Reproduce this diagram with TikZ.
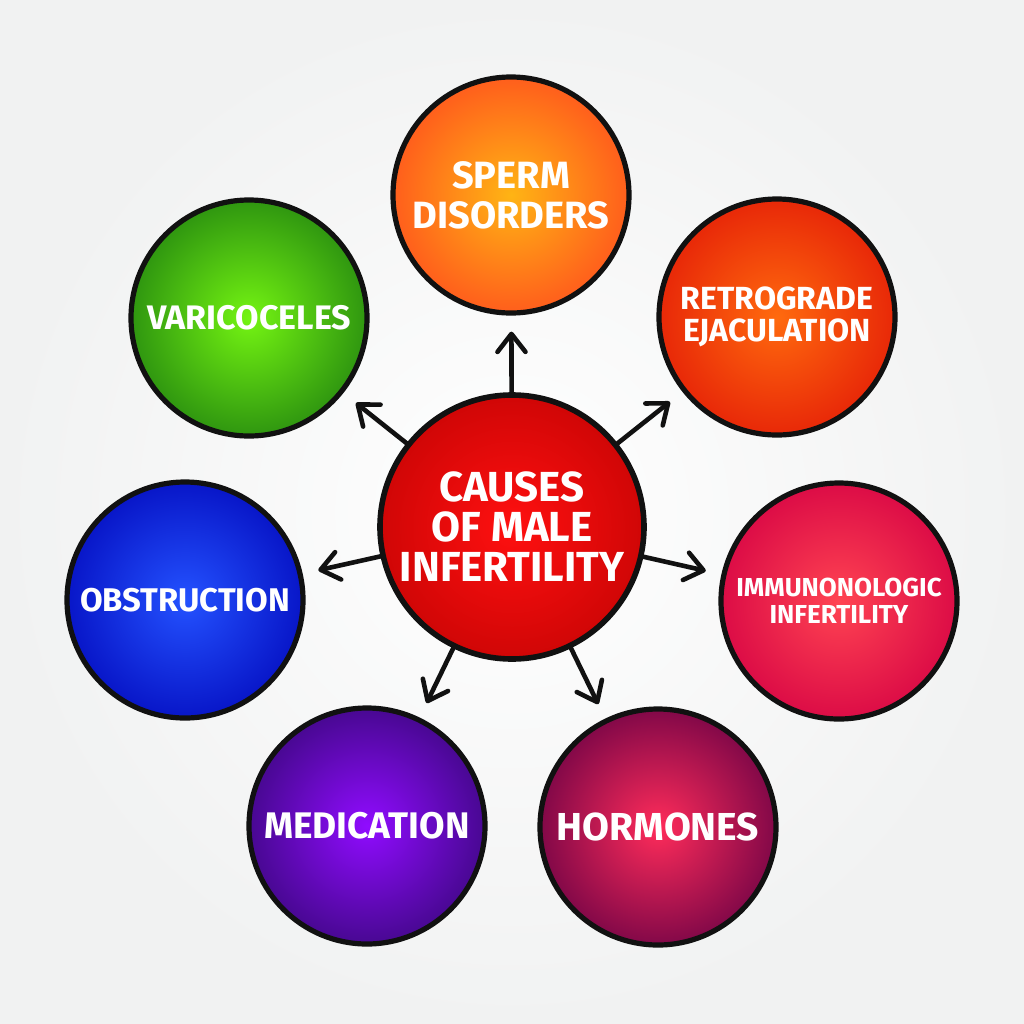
\documentclass[tikz,border=0pt]{standalone}
\usepackage{fontspec}
\setmainfont{Fira Sans}
\usetikzlibrary{arrows.meta}
\definecolor{ink}{HTML}{111111}
\definecolor{bgedge}{HTML}{F1F2F2}
\definecolor{spermIn}{HTML}{FFB414}
\definecolor{spermOut}{HTML}{FF5E1C}
\definecolor{retroIn}{HTML}{FF6A0E}
\definecolor{retroOut}{HTML}{E82808}
\definecolor{varicIn}{HTML}{74F412}
\definecolor{varicOut}{HTML}{2F9610}
\definecolor{obstrIn}{HTML}{2452FF}
\definecolor{obstrOut}{HTML}{0816C8}
\definecolor{immunIn}{HTML}{FF4452}
\definecolor{immunOut}{HTML}{DC0C46}
\definecolor{medicIn}{HTML}{900CFF}
\definecolor{medicOut}{HTML}{480892}
\definecolor{hormonIn}{HTML}{FF2C5A}
\definecolor{hormonOut}{HTML}{820848}
\definecolor{causeIn}{HTML}{FF1010}
\definecolor{causeOut}{HTML}{D00606}

\begin{document}
\begin{tikzpicture}[x=0.5pt, y=-0.5pt,
  >={Straight Barb[length=9pt,width=14pt,line cap=round,line join=round]},
  bubble/.style={circle, draw=ink, line width=2.6pt, minimum size=118pt,
    inner sep=0pt, text=white, align=center},
  txt/.style 2 args={font=\bfseries\fontsize{#1}{#2}\selectfont},
  link/.style={->, draw=ink, line width=2.3pt, line cap=round, shorten >=8pt}]
  % backdrop
  \shade[inner color=white, outer color=bgedge] (0,0) rectangle (1024,1024);

  \node (cause) [bubble, minimum size=132pt, line width=2.8pt, inner color=causeIn,
    outer color=causeOut, txt={21}{20}] at (512,527) {CAUSES\\OF MALE\\INFERTILITY};

  \node (sperm)  [bubble, inner color=spermIn, outer color=spermOut, txt={19}{20}]
    at (511,195) {SPERM\\DISORDERS};
  \node (retro)  [bubble, inner color=retroIn, outer color=retroOut, txt={16}{16}]
    at (777,317) {RETROGRADE\\EJACULATION};
  \node (varic)  [bubble, inner color=varicIn, outer color=varicOut, txt={17}{17}]
    at (249,318) {VARICOCELES};
  \node (obstr)  [bubble, inner color=obstrIn, outer color=obstrOut, txt={16.4}{16}]
    at (185,600) {OBSTRUCTION};
  \node (immun)  [bubble, inner color=immunIn, outer color=immunOut, txt={13}{13.5}]
    at (839,601) {IMMUNONOLOGIC\\INFERTILITY};
  \node (medic)  [bubble, inner color=medicIn, outer color=medicOut, txt={18.5}{18}]
    at (367,826) {MEDICATION};
  \node (hormon) [bubble, inner color=hormonIn, outer color=hormonOut, txt={19.5}{19}]
    at (658,827) {HORMONES};

  % arrows out of the middle
  \foreach \t in {sperm,retro,varic,obstr,immun,medic,hormon}
    \draw[link] (cause) -- (\t);
\end{tikzpicture}
\end{document}
